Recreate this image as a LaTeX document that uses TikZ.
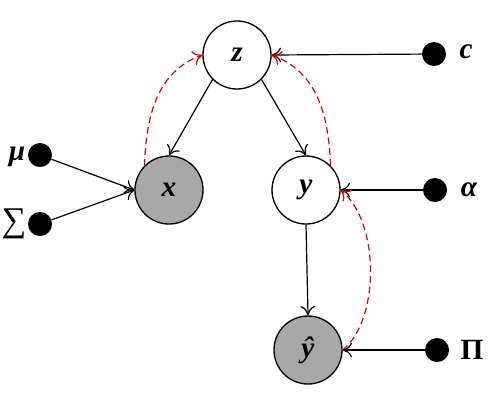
\documentclass[tikz,border=0pt]{standalone}
\usepackage{fontspec}
\setmainfont{Liberation Serif}
\newfontfamily\dvfont{DejaVu Serif}
\usetikzlibrary{arrows.meta}
\begin{document}
\begin{tikzpicture}[x=0.75pt,y=-0.75pt,
  var/.style={circle,draw,line width=1pt,minimum size=51pt,inner sep=0pt,font=\fontsize{22}{26}\selectfont\bfseries\itshape},
  obs/.style={var,fill=black!34},
  dot/.style={circle,fill=black,minimum size=18pt,inner sep=0pt},
  lab/.style={font=\fontsize{22}{26}\selectfont\bfseries,inner sep=0pt},
  edge/.style={line width=0.9pt,-{To[length=7pt,width=11pt]}},
  inf/.style={line width=0.9pt,red!85!black,dash pattern=on 5pt off 3pt,-{To[length=7pt,width=11pt]}}]
\useasboundingbox (0,0) rectangle (502,401);
\node[var] (z) at (237,55) {z};
\node[obs] (x) at (169,190) {x};
\node[var] (y) at (306,190) {y};
\node[obs] (yh) at (308,350) {ŷ};
\node[dot] (c) at (434,54) {};
\node[dot] (a) at (435,190) {};
\node[dot] (p) at (437,350) {};
\node[dot] (mu) at (40,155) {};
\node[dot] (s) at (40,224) {};
\node[lab] (cl) at (466,52) {\itshape c};
\node[lab] (al) at (469,190) {\itshape α};
\node[lab] (pl) at (472,350) {Π};
\node[lab] (mul) at (17,157) {\itshape μ};
\node[lab] (sl) at (14,224) {\fontsize{26}{30}\selectfont\mdseries ∑};
\draw[edge] (z.225) -- (x.north);
\draw[edge] (z.315) -- (y.north);
\draw[edge] (y.south) -- (yh.north);
\draw[edge] (mu) -- (x.west);
\draw[edge] (s) -- (x.west);
\draw[edge] (c) -- (z.east);
\draw[edge] (a) -- (y.east);
\draw[edge] (p) -- (yh.east);
\draw[inf] (x.135) to[out=88,in=200] (z.west);
\draw[inf] (y.45) to[out=92,in=-20] (z.east);
\draw[inf] (yh.east) .. controls (380,320) and (380,222) .. (y.east);
\end{tikzpicture}
\end{document}
